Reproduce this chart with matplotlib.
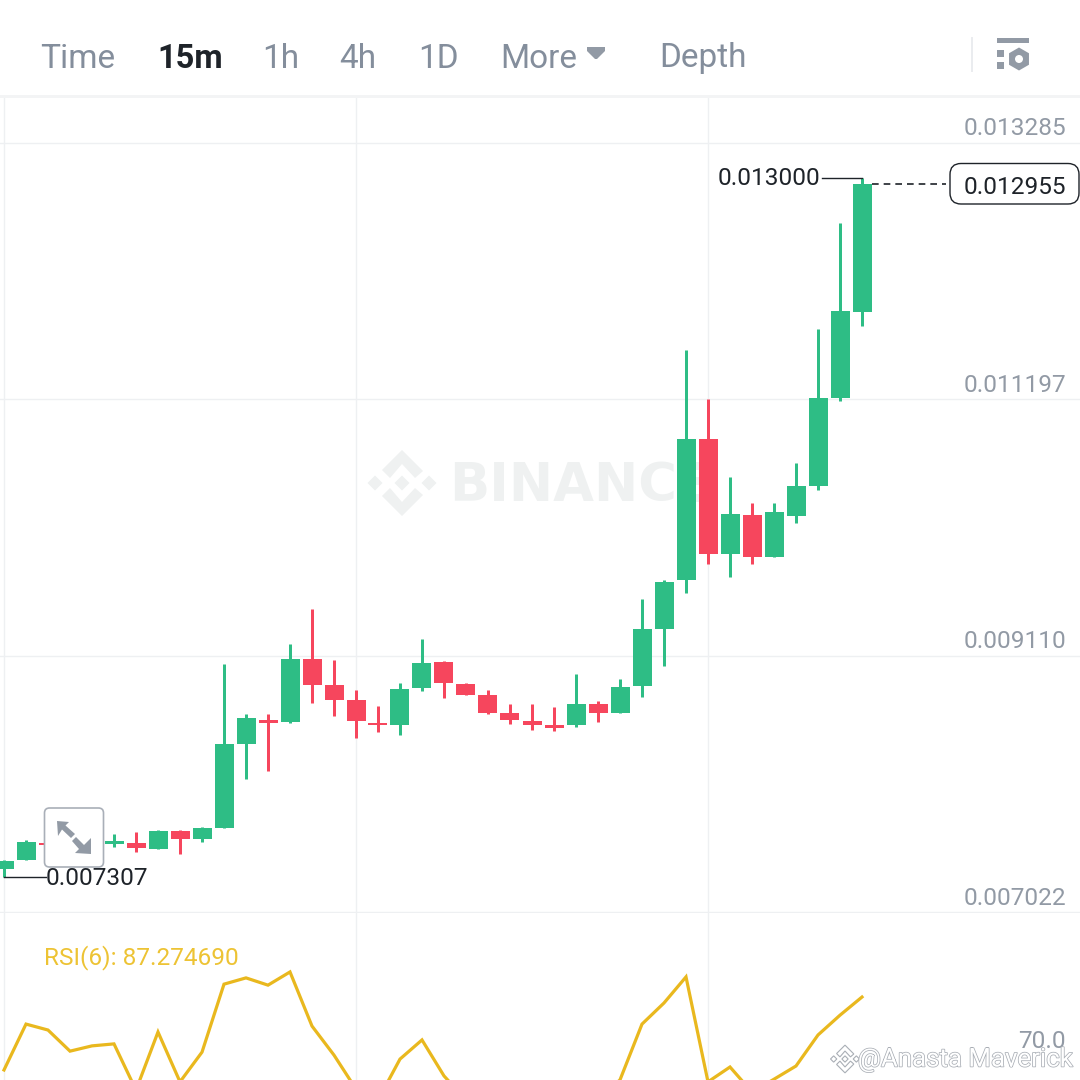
import numpy as np
import matplotlib
matplotlib.use("Agg")
import matplotlib.pyplot as plt
from matplotlib.patches import Polygon, FancyBboxPatch, RegularPolygon, Circle, Rectangle
import matplotlib.patheffects as pe

# ---- data (prices in millionths) ----
opens = [7372,7446,7584,7592,7584,7576,7584,7535,7682,7617,7706,8390,8586,8569,9082,8871,8749,8561,8545,8846,
         9058,8879,8789,8643,8578,8545,8545,8716,8643,8863,9327,9726,10874,9938,10255,9913,10247,10491,11208,11909]
closes = [7437,7592,7568,7576,7600,7600,7543,7682,7617,7706,8390,8602,8561,9082,8871,8749,8578,8545,8838,9050,
          8887,8789,8643,8586,8545,8520,8716,8643,8855,9327,9710,10874,9938,10263,9913,10280,10491,11208,11917,12955]
highs = [7446,7608,7584,7592,7610,7657,7674,7690,7690,7714,9042,8635,8635,9205,9490,9074,8830,8700,8887,9245,
         9066,8887,8830,8716,8716,8692,8960,8740,8920,9571,9726,11599,11200,10565,10353,10353,10679,11770,12633,13000]
lows = [7307,7446,7568,7576,7570,7551,7511,7535,7494,7592,7706,8105,8170,8561,8724,8618,8439,8488,8464,8822,
        8765,8789,8635,8553,8504,8496,8529,8569,8643,8773,9025,9620,9856,9750,9856,9913,10190,10459,11184,11795]
rsi = [65.2,79.1,77.3,70.9,72.5,73.1,59.1,76.7,61.6,70.6,91.2,93.1,90.9,94.9,78.5,69.7,59.4,56.1,68.5,74.3,
       63.4,56.1,53.1,51.6,50.0,48.5,51.6,56.1,62.2,79.1,85.5,93.4,61.6,66.1,58.5,62.4,66.4,75.8,81.8,87.3]
price_ticks = ["0.013285", "0.011197", "0.009110", "0.007022"]
tabs = ["Time", "15m", "1h", "4h", "1D", "More", "Depth"]
rsi_tick = 70.0

GREEN, RED = "#2EBD85", "#F6465D"
GRID, GREY, DARK, YEL = "#EEF0F2", "#929AA5", "#1E2329", "#E9B81E"
FONT = "Roboto"
plt.rcParams["font.family"] = [FONT, "DejaVu Sans"]

W = 1080
def px2i(px): return (px - 4) / 22
def yp(y): return (14449.6 - 8.1443 * y) * 1e-6
def yr(y): return 389.4 - 0.303 * y

fig = plt.figure(figsize=(10.8, 10.8), dpi=100, facecolor="white")
ax = fig.add_axes([0, (W - 913) / W, 1, (913 - 97) / W])
ar = fig.add_axes([0, 0, 1, (W - 913) / W], sharex=ax)
ui = fig.add_axes([0, 0, 1, 1], zorder=10)
ui.set_xlim(0, W); ui.set_ylim(W, 0); ui.axis("off"); ui.patch.set_alpha(0)

o, c, h, l = [np.array(a) * 1e-6 for a in (opens, closes, highs, lows)]
x = np.arange(len(o))
cols = [GREEN if cc >= oo else RED for oo, cc in zip(o, c)]
ticks = [float(t) for t in price_ticks]

ax.set_xlim(px2i(0), px2i(W)); ax.set_ylim(yp(913), yp(97))
ar.set_ylim(yr(W), yr(913))
for a in (ax, ar):
    a.set_xticks([0, 16, 32])
    a.grid(axis="x", color=GRID, lw=1.0, zorder=0)
    a.tick_params(left=False, bottom=False, labelleft=False, labelbottom=False)
    for s in a.spines.values(): s.set_visible(False)
    a.set_axisbelow(True)
ax.set_yticks(ticks)
ax.grid(axis="y", color=GRID, lw=1.0, zorder=0)

# watermark
ax.text(px2i(449), yp(486), "BINANCE", fontfamily="DejaVu Sans", fontweight="bold", fontsize=38, color="#EFF1F1",
        va="center", ha="left", zorder=0.5)
def logo(a, cx, cy, s, **kw):
    sq = 7.5
    for dx in (-27, 0, 27):
        a.add_patch(Polygon([(cx+dx*s-sq*s, cy), (cx+dx*s, cy-sq*s), (cx+dx*s+sq*s, cy), (cx+dx*s, cy+sq*s)], **kw))
    for sg in (1, -1):
        a.add_patch(Polygon([(cx, cy-33*sg*s), (cx+21*s, cy-12*sg*s), (cx+13*s, cy-5*sg*s), (cx, cy-19*sg*s),
                             (cx-12*s, cy-5*sg*s), (cx-20*s, cy-13*sg*s)], **kw))
bg = fig.add_axes([0, 0, 1, 1], zorder=-1); bg.set_xlim(0, W); bg.set_ylim(W, 0); bg.axis("off")
ax.patch.set_alpha(0); ar.patch.set_alpha(0)
logo(bg, 402, 483, 1.0, fc="#EFF1F1", ec="none")

# candles
ax.vlines(x, l, h, colors=cols, lw=2.16, zorder=3)
ax.bar(x, np.abs(c - o), bottom=np.minimum(o, c), width=19 / 22, color=cols, lw=0, zorder=4)

# rsi
ar.plot(x, rsi, color=YEL, lw=2.3, solid_joinstyle="miter", zorder=3)

# price labels
PS = 17.6
for t, s, yy in zip(ticks, price_ticks, (126, 383, 639, 896)):
    ui.text(1066, yy, s, ha="right", va="center_baseline", fontsize=PS, color=GREY)

# extreme + last price markers
ax.plot([39, px2i(822)], [h[-1], h[-1]], color=DARK, lw=1.0, zorder=5)
ui.text(820, 176, f"{h.max():.6f}", ha="right", va="center_baseline", fontsize=PS, color=DARK)
ax.plot([0, px2i(46)], [l[0], l[0]], color=DARK, lw=1.0, zorder=5)
ui.text(46, 876, f"{l.min():.6f}", ha="left", va="center_baseline", fontsize=PS, color=DARK)
ax.plot([px2i(872), px2i(946)], [c[-1], c[-1]], color=DARK, lw=1.2, ls=(0, (4, 3)), zorder=2)
ui.add_patch(FancyBboxPatch((950, 163.5), 129, 40.5, boxstyle="round,pad=0,rounding_size=11", fc="white", ec=DARK, lw=1.0))
ui.text(1015, 185, f"{c[-1]:.6f}", ha="center", va="center_baseline", fontsize=PS, color=DARK)

# rsi text
ui.text(44, 955, "RSI(6): 87.274690", ha="left", va="center_baseline", fontsize=17.6, color="#EDC334")
ui.text(1066, 1039, f"{rsi_tick:.1f}", ha="right", va="center_baseline", fontsize=PS, color=GREY)

# header
ui.add_patch(Rectangle((0, 95), W, 3, fc="#F3F4F5", ec="none"))
tabx = [40, 157, 262, 339, 418, 500, 659]
for t, tx in zip(tabs, tabx):
    act = t == "15m"
    ui.text(tx, 55, t, ha="left", va="center_baseline", fontsize=23.5 if act else 24, color=DARK if act else "#848E9C",
            fontweight="bold" if act else "normal")
ui.add_patch(Polygon([(587, 47), (605, 47), (605, 51), (597, 59), (595, 59), (587, 51)], fc=GREY, ec="none"))
ui.plot([972, 972], [38, 71], color="#EAECEF", lw=1.4)
ui.add_patch(Rectangle((997, 38), 32, 5, fc=GREY, ec="none"))
ui.add_patch(Rectangle((997, 50), 7, 7, fc=GREY, ec="none"))
ui.add_patch(Rectangle((997, 62), 7, 7, fc=GREY, ec="none"))
ui.add_patch(RegularPolygon((1019, 59), 6, radius=11.5, fc=GREY, ec="none"))
ui.add_patch(Circle((1019, 59), 4, fc="white", ec="none"))

# expand button
ui.add_patch(FancyBboxPatch((44.5, 808), 59, 59, boxstyle="round,pad=0,rounding_size=5", fc="white", ec="#A9AFB8", lw=1.2))
ui.add_patch(Polygon([(57, 821), (69, 822), (65.5, 825.5), (75, 834), (71, 838), (62, 829.5), (58, 836)], fc=GREY, ec="none"))
ui.add_patch(Polygon([(91, 854), (75, 853), (79, 849), (72, 841), (76, 837), (84, 845), (91, 838)], fc=GREY, ec="none"))

# watermark bottom-right
ui.text(1073, 1057, "@Anasta Maverick", ha="right", va="center_baseline", fontsize=18.6, color="white",
        path_effects=[pe.withStroke(linewidth=1.1, foreground="#A9AEB5")])
logo(ui, 845, 1059, 0.42, fc="white", ec="#A9AEB5", lw=0.8)

fig.savefig("out.png", dpi=100)
